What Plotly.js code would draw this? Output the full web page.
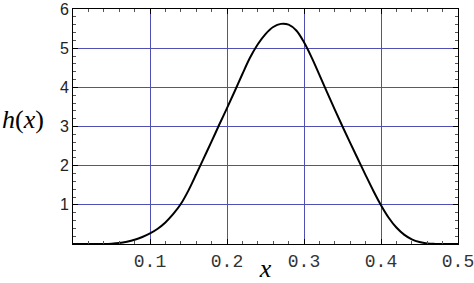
<!DOCTYPE html>
<html>
<head>
<meta charset="utf-8">
<script src="https://cdn.plot.ly/plotly-3.0.1.min.js"></script>
<style>html,body{margin:0;padding:0;background:#fff;}#chart{width:474px;height:283px;}</style>
</head>
<body>
<div id="chart"></div>
<script>
const xValues = [0, 0.02, 0.04, 0.05, 0.06, 0.07, 0.08, 0.09, 0.10, 0.11, 0.12, 0.13, 0.14, 0.15, 0.16, 0.17, 0.18, 0.19, 0.20, 0.21, 0.22, 0.23, 0.24, 0.25, 0.26, 0.27, 0.28, 0.29, 0.30, 0.31, 0.32, 0.33, 0.34, 0.35, 0.36, 0.37, 0.38, 0.39, 0.40, 0.41, 0.42, 0.43, 0.44, 0.45, 0.46, 0.47, 0.48, 0.50];
const hValues = [0, 0, 0.002, 0.008, 0.025, 0.06, 0.11, 0.18, 0.27, 0.39, 0.55, 0.76, 1.02, 1.37, 1.78, 2.20, 2.62, 3.05, 3.47, 3.90, 4.34, 4.76, 5.10, 5.36, 5.54, 5.62, 5.60, 5.45, 5.15, 4.76, 4.32, 3.87, 3.43, 3.00, 2.58, 2.17, 1.76, 1.36, 0.99, 0.67, 0.42, 0.24, 0.12, 0.05, 0.015, 0.003, 0, 0];
const xTickVals = [0.1, 0.2, 0.3, 0.4, 0.5];
const xTickText = ["0.1", "0.2", "0.3", "0.4", "0.5"];
const yTickVals = [1, 2, 3, 4, 5, 6];
const yTickText = ["1", "2", "3", "4", "5", "6"];

const gridColor = "rgb(80,80,180)";

Plotly.newPlot("chart", [{
  x: xValues, y: hValues, type: "scatter", mode: "lines",
  line: {color: "#000", width: 2, shape: "spline", smoothing: 1},
  hoverinfo: "skip"
}], {
  width: 474, height: 283,
  margin: {l: 73, r: 16, t: 9, b: 39},
  paper_bgcolor: "#fff", plot_bgcolor: "#fff",
  showlegend: false,
  xaxis: {
    range: [0, 0.5], tickvals: xTickVals, ticktext: xTickText,
    showgrid: true, gridcolor: gridColor, gridwidth: 1, zeroline: false,
    showline: true, linecolor: "#000", linewidth: 1, mirror: "allticks",
    ticks: "inside", ticklen: 5, tickcolor: "#000",
    minor: {dtick: 0.02, ticks: "inside", ticklen: 3, tickcolor: "#555", showgrid: false},
    tickfont: {family: "Liberation Mono, Courier New, monospace", size: 18, color: "#333"},
    ticklabeloverflow: "allow",
    title: {text: "<i>x</i>", font: {family: "Liberation Serif, Times New Roman, serif", size: 26, color: "#000"}, standoff: 0}
  },
  yaxis: {
    range: [0, 6], tickvals: yTickVals, ticktext: yTickText,
    showgrid: true, gridcolor: gridColor, gridwidth: 1, zeroline: false,
    showline: true, linecolor: "#000", linewidth: 1, mirror: "allticks",
    ticks: "inside", ticklen: 5, tickcolor: "#000",
    minor: {dtick: 0.2, ticks: "inside", ticklen: 3, tickcolor: "#555", showgrid: false},
    tickfont: {family: "Liberation Sans, Arial, sans-serif", size: 16, color: "#222"},
    ticklabeloverflow: "allow"
  },
  annotations: [{
    text: "<i>h</i>(<i>x</i>)", xref: "paper", yref: "paper",
    x: -0.19, y: 0.53, xanchor: "left", yanchor: "middle", showarrow: false,
    font: {family: "Liberation Serif, Times New Roman, serif", size: 26, color: "#000"}
  }]
}, {staticPlot: true});
</script>
</body>
</html>
